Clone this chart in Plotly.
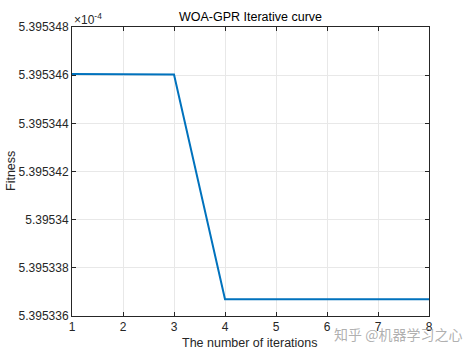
import plotly.graph_objects as go

iterations = [1, 2, 3, 4, 5, 6, 7, 8]
fitness = [5.39534605e-4, 5.39534605e-4, 5.39534603e-4, 5.3953367e-4,
           5.3953367e-4, 5.3953367e-4, 5.3953367e-4, 5.3953367e-4]
y_tick_labels = ["5.395336", "5.395338", "5.39534", "5.395342", "5.395344", "5.395346", "5.395348"]
y_tick_values = [float(t) * 1e-4 for t in y_tick_labels]
x_ticks = [1, 2, 3, 4, 5, 6, 7, 8]

font = "Liberation Sans, Arial, sans-serif"
axcol = "#262626"
L, R, T, B = 72, 45, 27, 39
W, H = 474, 355
pw, ph = W - L - R, H - T - B

fig = go.Figure()
fig.add_trace(go.Scatter(x=iterations, y=fitness, mode="lines",
                         line=dict(color="#0072BD", width=2), showlegend=False))

fig.update_layout(
    width=W, height=H,
    margin=dict(l=L, r=R, t=T, b=B, autoexpand=False),
    paper_bgcolor="white", plot_bgcolor="white",
    font=dict(family=font, size=12, color=axcol),
    title=dict(text="WOA-GPR Iterative curve", x=0.5, xanchor="center", xref="paper",
               y=1 - 17 / H, yref="container", yanchor="middle",
               font=dict(size=12.5, color="#000000")),
    xaxis=dict(range=[1, 8], tickvals=x_ticks, ticks="inside", ticklen=4,
               tickcolor=axcol, showline=True, linecolor=axcol, linewidth=1,
               mirror="ticks", showgrid=True, gridcolor="#e8e8e8", gridwidth=1,
               zeroline=False, tickfont=dict(size=12), automargin=False),
    yaxis=dict(range=[y_tick_values[0], y_tick_values[-1]], tickvals=y_tick_values,
               ticktext=y_tick_labels, ticks="inside", ticklen=4,
               tickcolor=axcol, showline=True, linecolor=axcol, linewidth=1,
               mirror="ticks", showgrid=True, gridcolor="#e8e8e8", gridwidth=1,
               zeroline=False, tickfont=dict(size=12), automargin=False),
)

def px(xp):
    return (xp - L) / pw

def py(yp):
    return (H - B - yp) / ph

fig.add_annotation(text="The number of iterations", x=px(250), y=py(343), xref="paper", yref="paper",
                   xanchor="center", yanchor="middle", showarrow=False,
                   font=dict(size=12.5, color=axcol))
fig.add_annotation(text="Fitness", x=px(11), y=py(171), xref="paper", yref="paper",
                   xanchor="center", yanchor="middle", showarrow=False, textangle=-90,
                   font=dict(size=12.5, color=axcol))
fig.add_annotation(text="×10<sup>-4</sup>", x=0, y=1, xref="paper", yref="paper",
                   xanchor="left", yanchor="bottom", showarrow=False,
                   font=dict(size=12, color=axcol), yshift=-2)
fig.add_annotation(text="知乎 @机器学习之心", x=px(398), y=py(334), xref="paper", yref="paper",
                   xanchor="center", yanchor="middle", showarrow=False,
                   font=dict(family="Noto Sans CJK SC", size=14, color="rgba(150,150,150,0.75)"))

fig.write_html("out.html", config={"displayModeBar": False},
               post_script="document.body.style.margin='0';document.body.style.padding='0';")
